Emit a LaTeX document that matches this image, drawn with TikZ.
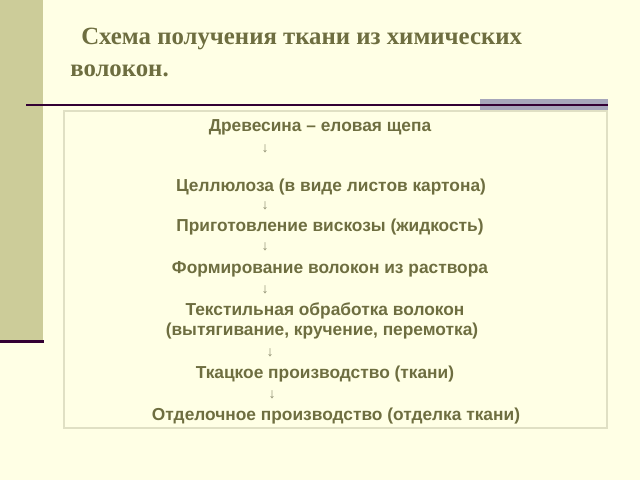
\documentclass[tikz,border=0pt]{standalone}
\usepackage{fontspec}
\setmainfont{Liberation Serif}
\newfontfamily\arialfont{Liberation Sans}
\usetikzlibrary{
    positioning, % relative placement
    backgrounds
}

\definecolor{slidebg}{RGB}{255,255,229}
\definecolor{barcol}{RGB}{204,204,153}
\definecolor{darkline}{RGB}{51,0,51}
\definecolor{greyblock}{RGB}{166,166,186}
\definecolor{boxline}{RGB}{224,224,196}
\definecolor{olivetext}{RGB}{110,110,64}
\definecolor{arrowtext}{RGB}{140,140,110}

\begin{document}
\begin{tikzpicture}[x=0.75pt, y=-0.75pt]

    % --- Styles ---
    \tikzset{
        title_text/.style={font=\fontsize{18.6}{22}\selectfont\bfseries, text=olivetext, anchor=west, inner sep=0pt},
        step_text/.style={font=\arialfont\fontsize{13}{15}\selectfont\bfseries, text=olivetext, inner sep=0pt},
        down_arrow/.style={font=\arialfont\fontsize{10.5}{12}\selectfont, text=arrowtext, inner sep=0pt}
    }

    % --- Slide background ---
    \fill[slidebg] (0,0) rectangle (640,480);
    \useasboundingbox (0,0) rectangle (640,480);
    \fill[barcol] (0,0) rectangle (43,340);
    \fill[darkline] (0,340) rectangle (44,343);

    % --- Title ---
    \node[title_text] (title1) at (81,39) {Схема получения ткани из химических};
    \node[title_text] (title2) at (70,71) {волокон.};

    % --- Rule under the title ---
    \fill[greyblock] (480,99) rectangle (608,111);
    \draw[darkline, line width=1.5pt] (26,104.5) -- (608,104.5);

    % --- Content box ---
    \draw[boxline, line width=1pt] (64,111) rectangle (607,428);

    % --- Steps ---
    \node[step_text] (s1) at (320,127) {Древесина – еловая щепа};
    \node[down_arrow] (a1) at (265,149) {↓};
    \node[step_text] (s2) at (331,187) {Целлюлоза (в виде листов картона)};
    \node[down_arrow] (a2) at (265,206) {↓};
    \node[step_text] (s3) at (330,227) {Приготовление вискозы (жидкость)};
    \node[down_arrow] (a3) at (265,247) {↓};
    \node[step_text] (s4) at (330,269) {Формирование волокон из раствора};
    \node[down_arrow] (a4) at (265,290) {↓};
    \node[step_text] (s5) at (325,311) {Текстильная обработка волокон};
    \node[step_text] (s5b) at (322,331) {(вытягивание, кручение, перемотка)};
    \node[down_arrow] (a5) at (270,353) {↓};
    \node[step_text] (s6) at (325,374) {Ткацкое производство (ткани)};
    \node[down_arrow] (a6) at (272,395) {↓};
    \node[step_text] (s7) at (336,416) {Отделочное производство (отделка ткани)};

\end{tikzpicture}
\end{document}
